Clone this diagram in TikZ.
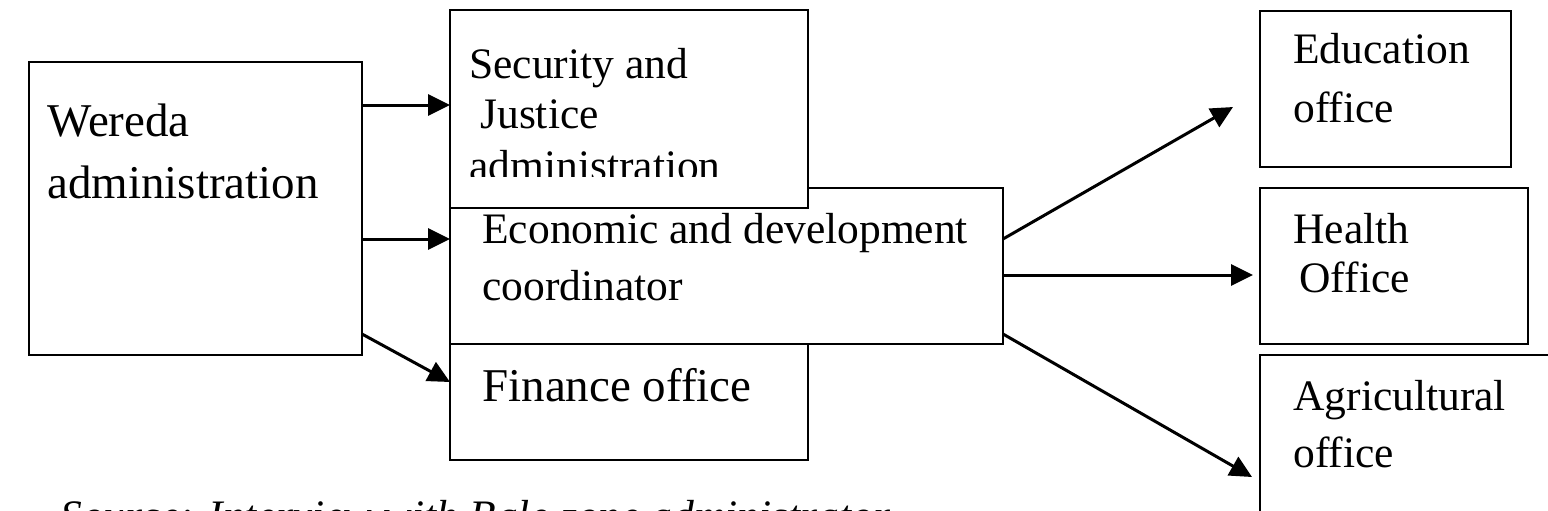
\documentclass[tikz,border=0pt]{standalone}
\usepackage{fontspec}
\setmainfont{Liberation Serif}
\usetikzlibrary{arrows.meta,calc}
\begin{document}
\begin{tikzpicture}[x=0.5pt,y=-0.5pt,
  box/.style={draw=black,line width=1.1pt,fill=white,inner sep=0pt,outer sep=0pt,anchor=north west},
  txt/.style={anchor=base west,inner sep=0pt,font=\fontsize{21.75pt}{26pt}\selectfont},
  bigtxt/.style={anchor=base west,inner sep=0pt,font=\fontsize{23.5pt}{28pt}\selectfont},
  captxt/.style={anchor=base west,inner sep=0pt,font=\fontsize{21.75pt}{26pt}\selectfont\itshape},
  arr/.style={line width=1.5pt,-{Triangle[length=11pt,width=10.5pt]}}]
\useasboundingbox (0,0) rectangle (1548,510);
\clip (0,0) rectangle (1548,510);
\fill[white] (0,0) rectangle (1548,510);

% boxes
\node[box,minimum width=166.5pt,minimum height=146.5pt] (wer) at (29,62) {};
\node[box,minimum width=276.5pt,minimum height=78pt] (eco) at (450,188) {};
\node[box,minimum width=179pt,minimum height=99pt] (sec) at (450,10) {};
\node[box,minimum width=179pt,minimum height=58pt] (fin) at (450,344) {};
\node[box,minimum width=125.5pt,minimum height=78pt] (edu) at (1260,11) {};
\node[box,minimum width=134pt,minimum height=78pt] (hea) at (1260,188) {};
\node[box,minimum width=160pt,minimum height=100pt] (agr) at (1260,355) {};

% texts
\node[bigtxt] (t1) at (47,136) {Wereda};
\node[bigtxt] (t2) at (47,198) {administration};
\node[txt] (t3) at (469,78) {Security and};
\node[txt] (t4) at (480,128) {Justice};
\begin{scope}
  \clip (452,140) rectangle (806,176);
  \node[txt] (t5) at (469,180) {administration};
\end{scope}
\node[txt] (t6) at (482,243) {Economic and development};
\node[txt] (t7) at (482,300) {coordinator};
\node[bigtxt] (t8) at (482,401) {Finance office};
\node[txt] (t9) at (1293,63) {Education};
\node[txt] (t10) at (1293,122) {office};
\node[txt] (t11) at (1293,243) {Health};
\node[txt] (t12) at (1299,292) {Office};
\node[txt] (t13) at (1293,410) {Agricultural};
\node[txt] (t14) at (1293,467) {office};
\node[captxt] (cap) at (60,530) {Source: Interview with Bale zone administrator};

% connector end points
\coordinate (w1) at ($(wer.north east)+(0,43)$);
\coordinate (w2) at ($(wer.north east)+(0,177)$);
\coordinate (w3) at ($(wer.north east)+(0,272)$);
\coordinate (f1) at ($(fin.north west)+(0,38)$);
\coordinate (e1) at ($(eco.north east)+(0,51)$);
\coordinate (e2) at ($(eco.north east)+(0,87)$);
\coordinate (e3) at ($(eco.north east)+(0,146)$);
\coordinate (d1) at ($(edu.north west)+(-27,96)$);
\coordinate (h1) at ($(hea.north west)+(-7,87)$);
\coordinate (a1) at ($(agr.north west)+(-8,122)$);

% connectors
\draw[arr] (w1) -- (w1 -| sec.west);
\draw[arr] (w2) -- (w2 -| eco.west);
\draw[arr] (w3) -- (f1);
\draw[arr] (e1) -- (d1);
\draw[arr] (e2) -- (h1);
\draw[arr] (e3) -- (a1);
\end{tikzpicture}
\end{document}
